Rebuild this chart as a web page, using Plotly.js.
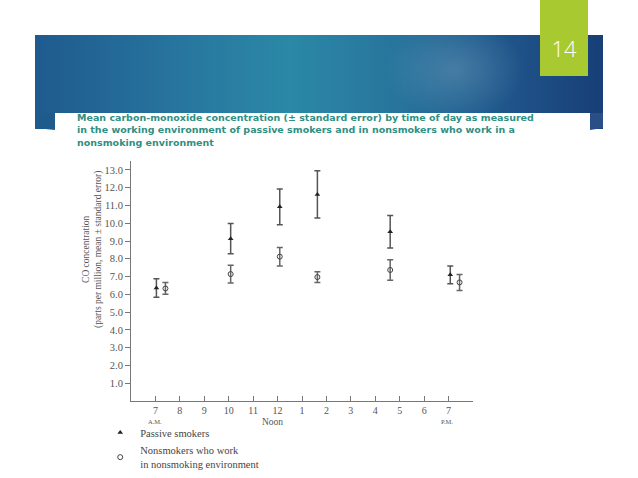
<!DOCTYPE html>
<html>
<head>
<meta charset="utf-8">
<script src="https://cdn.plot.ly/plotly-3.0.1.min.js"></script>
<style>
  html, body { margin:0; padding:0; background:#ffffff; }
  #stage { position:relative; width:638px; height:478px; overflow:hidden; background:#fff; }
  #banner { position:absolute; left:35px; top:35px; width:568px; height:94px;
    background:
      radial-gradient(ellipse 70px 50px at 420px 35px, rgba(120,160,190,0.40), rgba(120,160,190,0) 100%),
      linear-gradient(90deg, #1f5a8e 0%, #2878a0 28%, #2b88a6 45%, #27739c 65%, #1e5288 85%, #183e77 100%); }
  #foldL { position:absolute; left:35px; top:113px; width:20px; height:17px;
    background:#1f5a8c; clip-path: polygon(0 0, 100% 0, 100% 100%, 0 88%); }
  #foldR { position:absolute; left:590px; top:113px; width:13px; height:17px;
    background:#2a4f86; clip-path: polygon(0 0, 100% 0, 100% 88%, 0 100%); }
  #card { position:absolute; left:55px; top:113px; width:535px; height:365px; background:#fff; }
  #badge { position:absolute; left:540px; top:0px; width:48px; height:76px; background:#a9c931;
    color:#fff; font-family:'Open Sans', 'Liberation Sans', sans-serif; font-size:22px; font-weight:300;
    text-align:center; line-height:22px; box-sizing:border-box; padding-top:37px; }
  #chart { position:absolute; left:0; top:0; width:638px; height:478px; }
</style>
</head>
<body>
<div id="stage">
  <div id="banner"></div>
  <div id="foldL"></div>
  <div id="foldR"></div>
  <div id="card"></div>
  <div id="badge">14</div>
  <div id="chart"></div>
</div>
<script>
// ---- data (hours on a 24h clock; values in ppm) ----
const passiveTime   = [7.04, 10.08, 12.09, 13.63, 16.61, 19.07];
const passiveMean   = [6.35, 9.13, 10.92, 11.62, 9.52, 7.10];
const passiveSE     = [0.52, 0.85, 1.00, 1.33, 0.92, 0.50];

const nonsmokerTime = [7.41, 10.08, 12.09, 13.63, 16.61, 19.45];
const nonsmokerMean = [6.33, 7.14, 8.12, 6.97, 7.37, 6.67];
const nonsmokerSE   = [0.33, 0.50, 0.52, 0.30, 0.58, 0.45];

const hourTicks  = [7, 8, 9, 10, 11, 12, 13, 14, 15, 16, 17, 18, 19];
const hourLabels = ['7', '8', '9', '10', '11', '12', '1', '2', '3', '4', '5', '6', '7'];
const coTicks    = [1, 2, 3, 4, 5, 6, 7, 8, 9, 10, 11, 12, 13];
const coLabels   = ['1.0', '2.0', '3.0', '4.0', '5.0', '6.0', '7.0', '8.0', '9.0', '10.0', '11.0', '12.0', '13.0'];

const titleText = 'Mean carbon-monoxide concentration (± standard error) by time of day as measured<br>' +
                  'in the working environment of passive smokers and in nonsmokers who work in a<br>' +
                  'nonsmoking environment';

const serif = 'Liberation Serif, DejaVu Serif, serif';

const traces = [
  {
    type: 'scatter', mode: 'markers', name: 'Passive smokers',
    x: passiveTime, y: passiveMean,
    marker: { symbol: 'triangle-up', size: 5, color: '#222' },
    error_y: { type: 'data', array: passiveSE, visible: true, color: '#555', thickness: 1.5, width: 3 },
    hoverinfo: 'x+y'
  },
  {
    type: 'scatter', mode: 'markers', name: 'Nonsmokers who work<br>in nonsmoking environment',
    x: nonsmokerTime, y: nonsmokerMean,
    marker: { symbol: 'circle-open', size: 5, color: '#444', line: { width: 1, color: '#444' } },
    error_y: { type: 'data', array: nonsmokerSE, visible: true, color: '#666', thickness: 1.5, width: 3 },
    hoverinfo: 'x+y'
  }
];

const layout = {
  width: 638, height: 478,
  paper_bgcolor: 'rgba(0,0,0,0)', plot_bgcolor: 'rgba(0,0,0,0)',
  margin: { l: 131, r: 165, t: 161, b: 0, pad: 0 },
  showlegend: true,
  legend: {
    x: -0.09, y: 0, xanchor: 'left', yanchor: 'bottom',
    font: { family: serif, size: 10.5, color: '#444' },
    bgcolor: 'rgba(0,0,0,0)', itemwidth: 30, tracegroupgap: 0,
    itemclick: false, itemdoubleclick: false
  },
  xaxis: {
    range: [6, 20], tickmode: 'array', tickvals: hourTicks, ticktext: hourLabels,
    showline: true, linecolor: '#777', linewidth: 1,
    ticks: 'inside', ticklen: 5, tickcolor: '#777', tickwidth: 1,
    showgrid: false, zeroline: false,
    tickfont: { family: serif, size: 10, color: '#555' }, fixedrange: true
  },
  yaxis: {
    domain: [0.2429, 1],
    range: [0, 13.5], tickmode: 'array', tickvals: coTicks, ticktext: coLabels,
    showline: true, linecolor: '#777', linewidth: 1,
    ticks: 'outside', ticklen: 5, tickcolor: '#777', tickwidth: 1,
    showgrid: false, zeroline: false,
    tickfont: { family: serif, size: 10.5, color: '#555' }, fixedrange: true
  },
  annotations: [
    { text: titleText, xref: 'paper', yref: 'paper', x: -0.1637, y: 1.0978,
      xanchor: 'left', yanchor: 'middle', align: 'left', showarrow: false,
      font: { family: 'DejaVu Sans, Verdana, sans-serif', size: 9.5, color: '#2f8f84', weight: 'bold' } },
    { text: 'CO concentration<br>(parts per million, mean ± standard error)', textangle: -90,
      xref: 'paper', yref: 'paper', x: -0.114, y: 0.7192, xanchor: 'center', yanchor: 'middle',
      showarrow: false, font: { family: serif, size: 9.5, color: '#555' } },
    { text: 'A.M.', xref: 'x', yref: 'paper', x: 7, y: 0.1767, yanchor: 'middle', showarrow: false,
      font: { family: serif, size: 6.5, color: '#555' } },
    { text: 'Noon', xref: 'x', yref: 'paper', x: 11.8, y: 0.1767, yanchor: 'middle', showarrow: false,
      font: { family: serif, size: 9.5, color: '#555' } },
    { text: 'P.M.', xref: 'x', yref: 'paper', x: 18.95, y: 0.1767, yanchor: 'middle', showarrow: false,
      font: { family: serif, size: 6.5, color: '#555' } }
  ]
};

Plotly.newPlot('chart', traces, layout, { displayModeBar: false, staticPlot: true });
</script>
</body>
</html>
